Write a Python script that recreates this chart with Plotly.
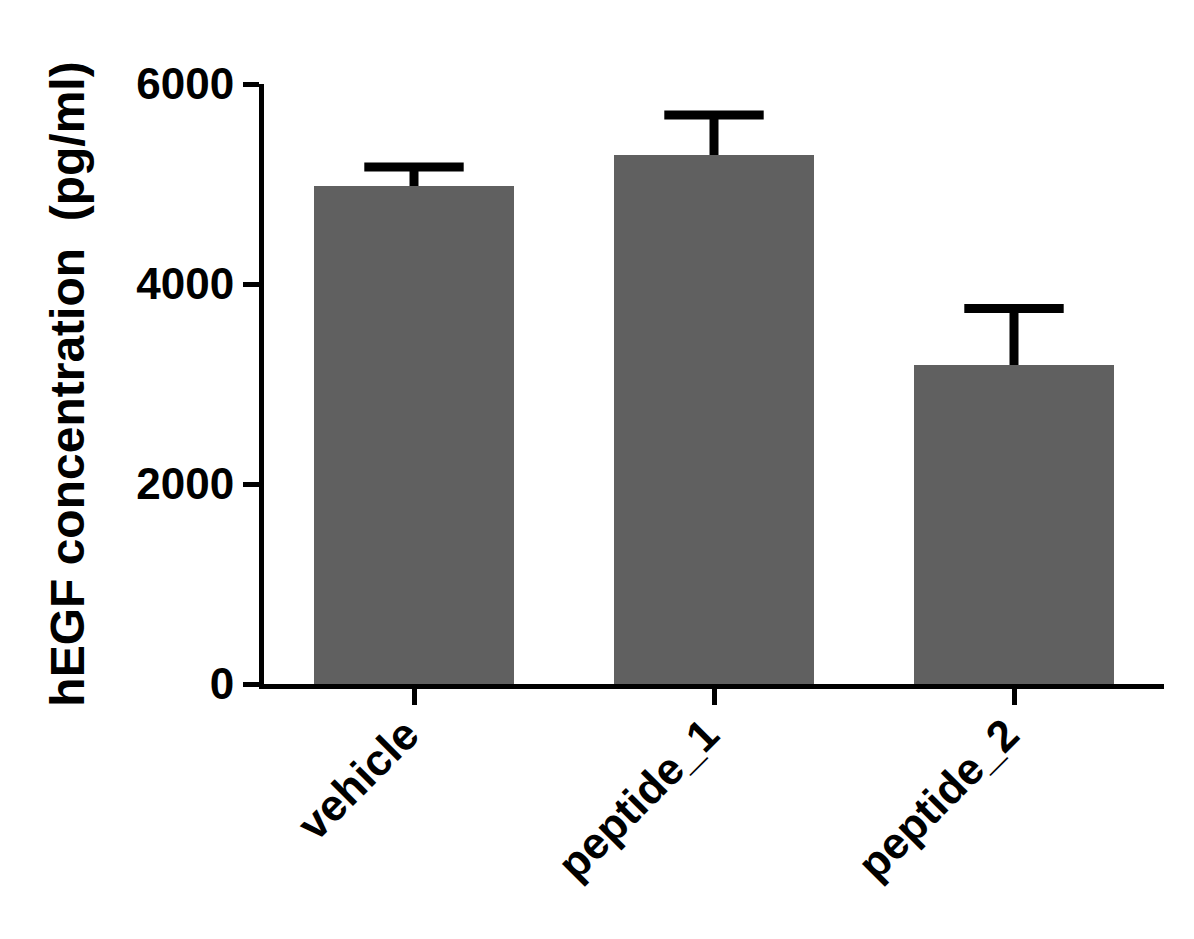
import plotly.graph_objects as go

# hEGF ELISA readout, mean + SEM
groups = ["vehicle", "peptide_1", "peptide_2"]
mean_pg_ml = [4980, 5290, 3190]
sem_pg_ml = [190, 400, 565]
y_ticks = [0, 2000, 4000, 6000]

# top of each error bar, where the cap sits
err_top = [m + s for m, s in zip(mean_pg_ml, sem_pg_ml)]

font = dict(family="Liberation Sans, Arial, sans-serif", color="black", size=44, weight="bold")

fig = go.Figure()
# bars with the upward stem only (cap width 0, caps drawn separately)
fig.add_trace(
    go.Bar(
        x=groups,
        y=mean_pg_ml,
        marker=dict(color="#606060", line=dict(width=0)),
        error_y=dict(
            type="data",
            symmetric=False,
            array=sem_pg_ml,
            arrayminus=[0] * len(sem_pg_ml),
            color="black",
            thickness=9,
            width=0,
        ),
    )
)
# caps on top of the stems (line-ew is 1.4 * size long -> ~100 px)
fig.add_trace(
    go.Scatter(
        x=groups,
        y=err_top,
        mode="markers",
        marker=dict(symbol="line-ew", size=71, line=dict(color="black", width=9)),
        hoverinfo="skip",
    )
)

fig.update_layout(
    width=1194,
    height=939,
    margin=dict(l=256, r=38, t=76, b=263),
    plot_bgcolor="white",
    paper_bgcolor="white",
    font=font,
    bargap=1 / 3,
    showlegend=False,
)
fig.update_xaxes(
    range=[-0.5, 2.5],
    showline=True,
    linecolor="black",
    linewidth=5,
    ticks="outside",
    ticklen=16,
    tickwidth=5,
    tickcolor="black",
    tickangle=-45,
    ticklabelstandoff=-14,
    ticklabelshift=-8,
    showgrid=False,
    zeroline=False,
)
fig.update_yaxes(
    title=dict(text="hEGF concentration  (pg/ml)", font=dict(size=48), standoff=38),
    range=[0, 6000],
    tickvals=y_ticks,
    showline=True,
    linecolor="black",
    linewidth=5,
    ticks="outside",
    ticklen=16,
    tickwidth=5,
    tickcolor="black",
    showgrid=False,
    zeroline=False,
)

fig.write_html("out.html")
